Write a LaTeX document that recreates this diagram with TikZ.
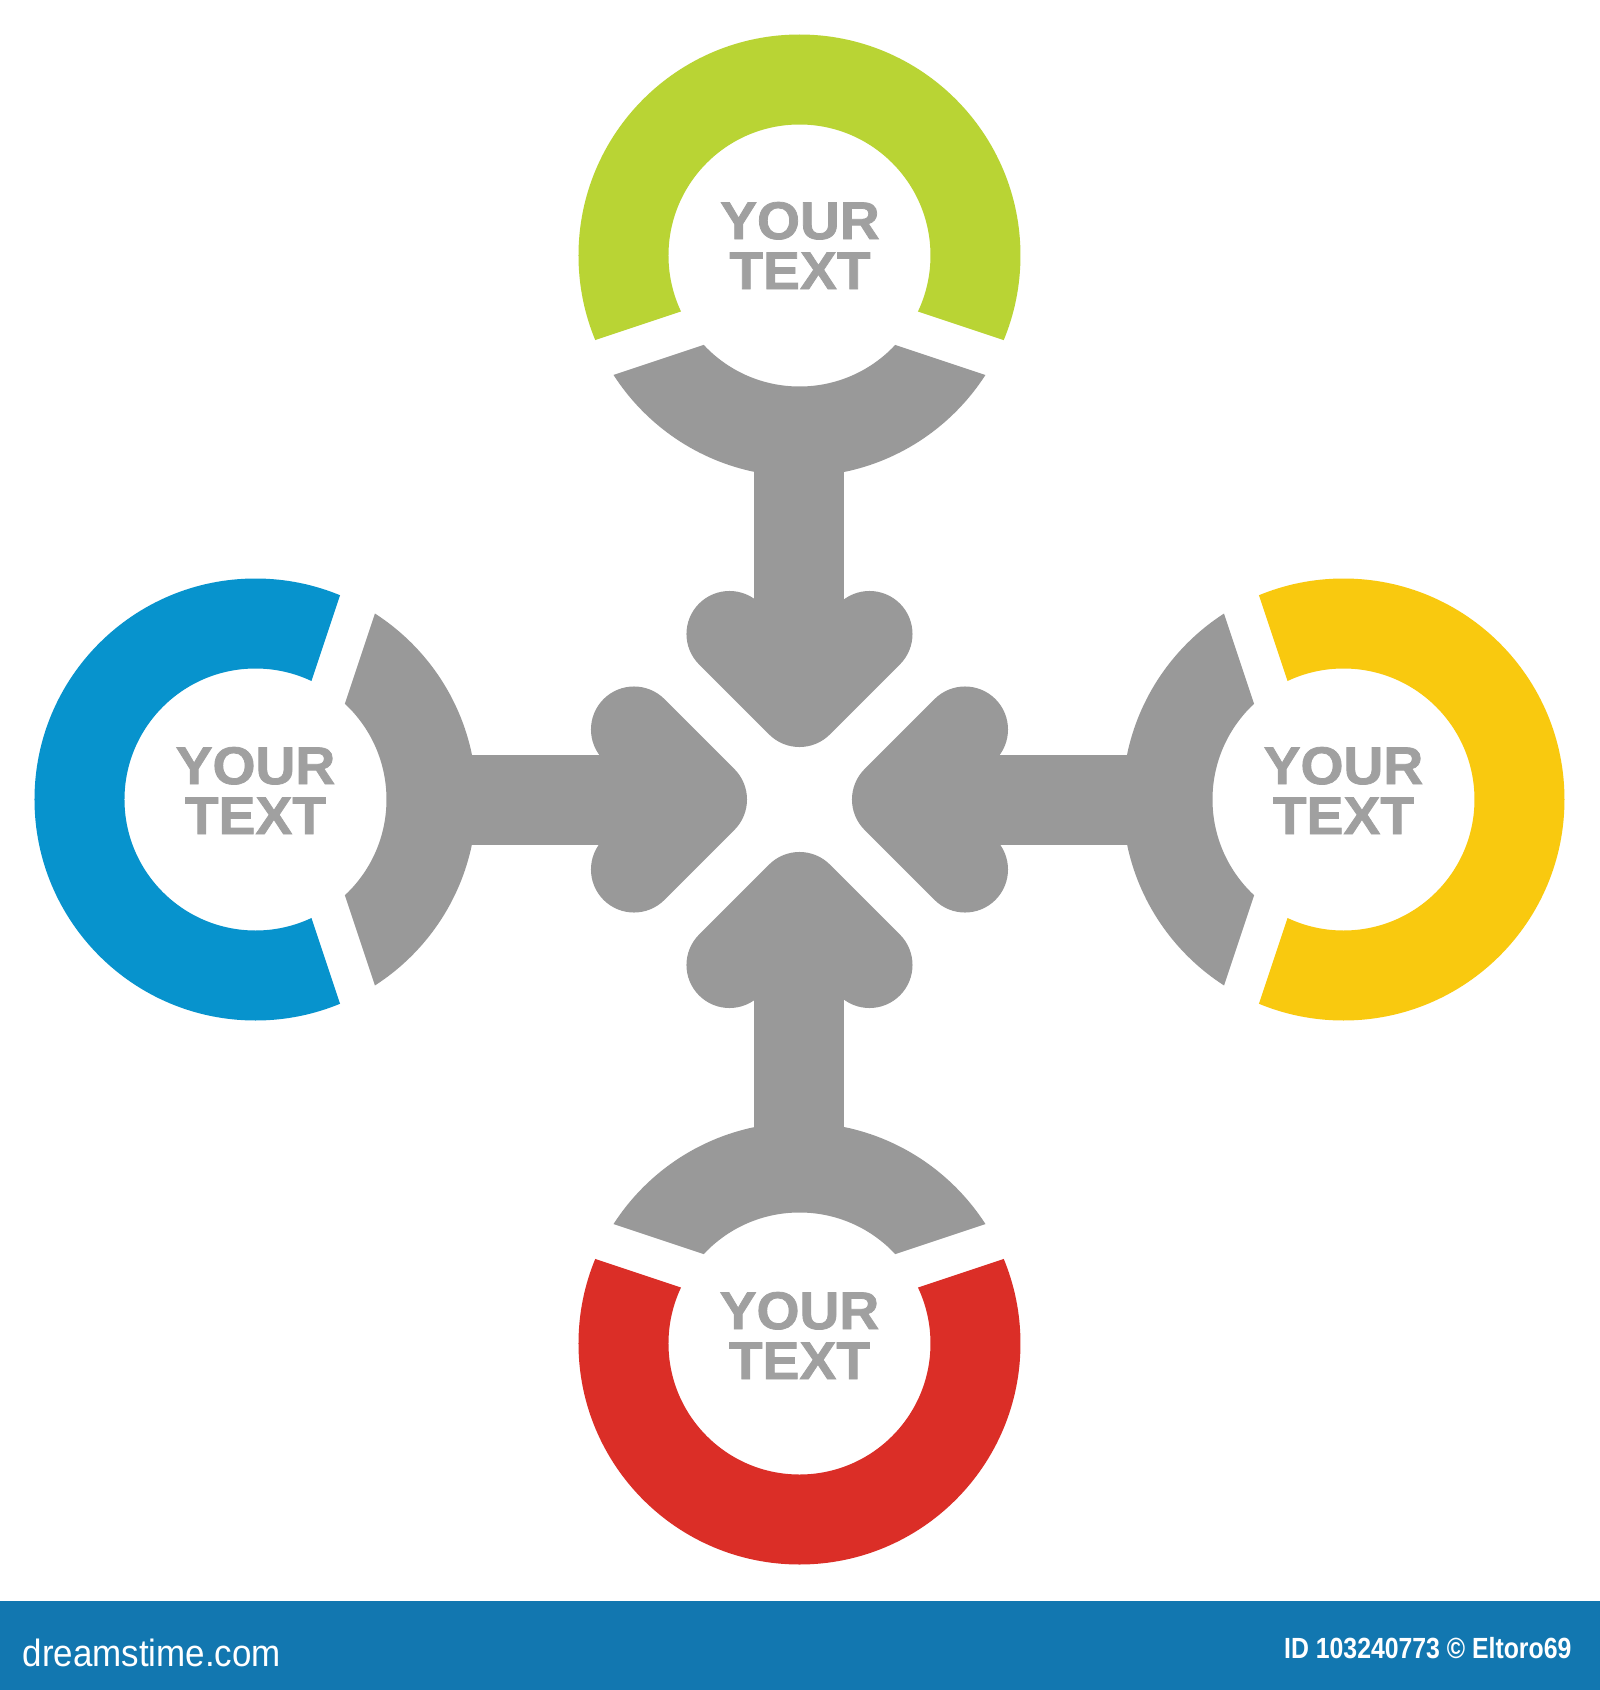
\documentclass[tikz,border=0pt]{standalone}
\usepackage{fontspec}
\setmainfont{Liberation Sans}
\newfontfamily\labelfont{Liberation Sans}[BoldFeatures={FakeBold=1.4}]
\definecolor{ringgreen}{HTML}{B9D434}
\definecolor{ringblue}{HTML}{0793CD}
\definecolor{ringyellow}{HTML}{F9C90F}
\definecolor{ringred}{HTML}{DB2E27}
\definecolor{armgray}{HTML}{999999}
\definecolor{txtgray}{HTML}{A0A0A0}
\definecolor{bannerblue}{HTML}{1277B0}
\tikzset{
  armpart/.style={fill=armgray},
  headline/.style={draw=armgray, line width=0.86cm, line cap=round, line join=round},
  labeltext/.style={font=\labelfont\bfseries\fontsize{15.1}{14.2}\selectfont, text=txtgray, align=center, inner sep=0pt, xscale=1.04},
}
\newcommand\drawarm[2]{%
  \begin{scope}[rotate=#1]
    \begin{scope}
      \clip (-300,427.5) -- (0,527.5) -- (300,427.5) -- (300,900) -- (-300,900) -- cycle;
      \fill[#2, even odd rule] (0,544) circle (221) (0,544) circle (131);
    \end{scope}
    \begin{scope}
      \clip (-300,386.5) -- (0,486.5) -- (300,386.5) -- (300,200) -- (-300,200) -- cycle;
      \fill[armgray, even odd rule] (0,544) circle (221) (0,544) circle (131);
    \end{scope}
    \fill[armpart] (-45,130) rectangle (45,360);
    \draw[headline] (-70,165.5) -- (0,95.5) -- (70,165.5);
  \end{scope}}
\begin{document}
\begin{tikzpicture}[x=0.01cm, y=0.01cm]
  \useasboundingbox (-799.5,-890.5) rectangle (800.5,799.5);
  \fill[white] (-799.5,-890.5) rectangle (800.5,799.5);
  \drawarm{0}{ringgreen}
  \drawarm{90}{ringblue}
  \drawarm{180}{ringred}
  \drawarm{270}{ringyellow}
  \node[labeltext] (ttop) at (0.5,554) {YOUR\\TEXT};
  \node[labeltext] (tleft) at (-544,9) {YOUR\\TEXT};
  \node[labeltext] (tright) at (544,9) {YOUR\\TEXT};
  \node[labeltext] (tbottom) at (0,-536) {YOUR\\TEXT};
  \fill[bannerblue] (-799.5,-890.5) rectangle (800.5,-801.5);
  \node[anchor=base west, text=white, font=\fontsize{10.8}{12}\selectfont, inner sep=0pt, xscale=0.92] (brand) at (-777.5,-866.5) {dreamstime.com};
  \node[anchor=base east, text=white, font=\bfseries\fontsize{8.3}{10}\selectfont, inner sep=0pt, xscale=0.85] (credit) at (772.5,-858.5) {ID 103240773 © Eltoro69};
\end{tikzpicture}
\end{document}
